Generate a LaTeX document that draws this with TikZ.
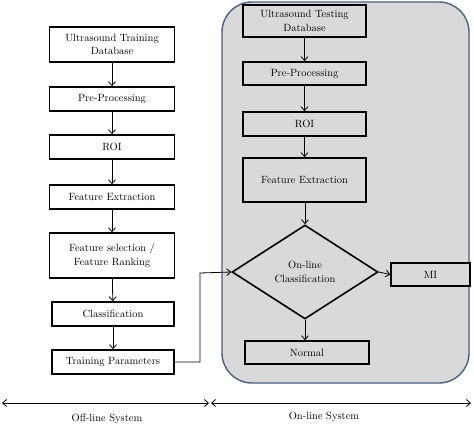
\documentclass[tikz,border=0pt]{standalone}
\usepackage{tikz}
\usetikzlibrary{shapes.geometric, positioning, arrows.meta}
\definecolor{panelfill}{RGB}{217,217,217}
\definecolor{paneldraw}{RGB}{74,96,128}

\begin{document}
\begin{tikzpicture}[
			x=1pt, y=-1pt,
			font=\fontsize{10.5}{13.5}\selectfont,
			block/.style={
				draw,
				line width=1.6pt,
				fill=white,
				align=center,
				inner sep=1pt,
				minimum width=125pt,
				minimum height=24pt
			},
			decision/.style={
				draw,
				diamond,
				line width=1.6pt,
				fill=panelfill,
				align=center,
				aspect=1.55,
				inner sep=0pt,
				minimum width=146pt,
				minimum height=94pt
			},
			flow/.style={
				draw,
				line width=0.8pt,
				-{Straight Barb[length=4pt,width=7pt]}
			},
			span/.style={
				draw,
				line width=0.8pt,
				{Straight Barb[length=4pt,width=7pt]}-{Straight Barb[length=4pt,width=7pt]}
			}
			]
			\useasboundingbox (0,0) rectangle (474,434);
			
			% On-line panel
			\draw[fill=panelfill, draw=paneldraw, line width=1.4pt, rounded corners=30pt]
			(222,2) rectangle (469,383);
			
			% Off-line column
			\node[block, minimum height=35pt] (trainDB) at (112,44.5) {Ultrasound Training\\Database};
			\node[block] (trainPre) at (112,99) {Pre-Processing};
			\node[block] (trainROI) at (112,147) {ROI};
			\node[block] (trainFE) at (112,197) {Feature Extraction};
			\node[block, minimum height=45pt] (trainFS) at (112,255.5) {Feature selection /\\Feature Ranking};
			\node[block, minimum width=122pt] (trainCls) at (113,314) {Classification};
			\node[block, minimum width=122pt] (trainPar) at (113,362) {Training Parameters};
			
			% On-line column
			\node[block, minimum width=123pt, minimum height=32pt, fill=panelfill] (testDB) at (304.5,21) {Ultrasound Testing\\Database};
			\node[block, minimum width=123pt, minimum height=23pt, fill=panelfill] (testPre) at (304.5,73.5) {Pre-Processing};
			\node[block, minimum width=123pt, fill=panelfill] (testROI) at (304.5,124) {ROI};
			\node[block, minimum width=123pt, minimum height=44pt, fill=panelfill] (testFE) at (304.5,180) {Feature Extraction};
			\node[decision] (online) at (305,272) {On-line\\Classification};
			\node[block, minimum width=79pt, minimum height=23pt, fill=panelfill] (mi) at (430.5,274.5) {MI};
			\node[block, minimum width=124pt, minimum height=23pt, fill=panelfill] (normal) at (307,352.5) {Normal};
			
			% Transitions
			\path[flow] (trainDB) -- (trainPre);
			\path[flow] (trainPre) -- (trainROI);
			\path[flow] (trainROI) -- (trainFE);
			\path[flow] (trainFE) -- (trainFS);
			\path[flow] (trainFS) -- (trainCls);
			\path[flow] (trainCls) -- (trainPar);
			\path[flow] (trainPar.east) -| (200,273) -- (online.west);
			
			\path[flow] (testDB) -- (testPre);
			\path[flow] (testPre) -- (testROI);
			\path[flow] (testROI) -- (testFE);
			\path[flow] (testFE.south -| online.north) -- (online.north);
			\path[flow] (online.east) -- (mi.west);
			\path[flow] (online.south) -- (online.south |- normal.north);
			
			% Systems
			\coordinate (offStart) at (2,403);
			\coordinate (offEnd) at (209,403);
			\coordinate (onStart) at (211,403);
			\coordinate (onEnd) at (471,403);
			\path[span] (offStart) -- (offEnd);
			\path[span] (onStart) -- (onEnd);
			\node (offLabel) at (107,419) {Off-line System};
			\node (onLabel) at (324,417) {On-line System};
		\end{tikzpicture}
\end{document}
